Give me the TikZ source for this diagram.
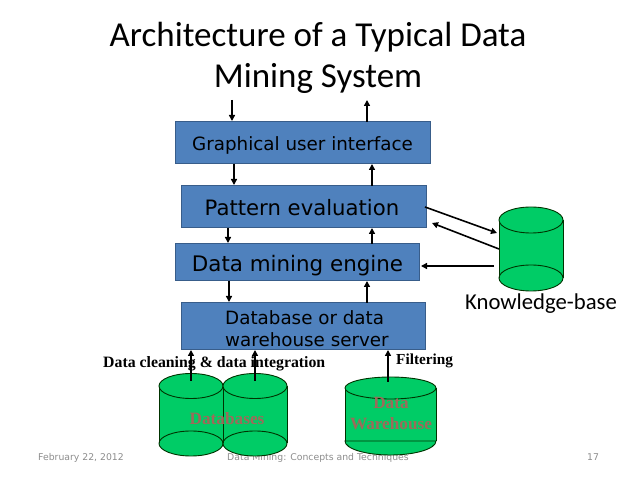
\documentclass[tikz,border=0pt]{standalone}
\usepackage{fontspec}
\usetikzlibrary{arrows.meta}
\newfontfamily\calib{Carlito}
\newfontfamily\tah{DejaVu Sans}
\newfontfamily\tms{Liberation Serif}
\definecolor{boxfill}{HTML}{4F81BD}
\definecolor{boxline}{HTML}{385D8A}
\definecolor{cylfill}{HTML}{00CC66}
\definecolor{cyltext}{HTML}{9C6B5A}
\definecolor{foot}{HTML}{8C8C8C}
\tikzset{
  layer/.style={draw=boxline, line width=1pt, fill=boxfill},
  flow/.style={-{Triangle[length=6pt,width=6pt]}, line width=1.6pt, black},
  cylline/.style={draw=black!80!green, line width=0.9pt},
  txt/.style={inner sep=0pt, anchor=base},
}
\newcommand{\cylbody}[5]{% cx, ty, by, rx, ry
  \fill[cylfill] (#1,#3) ellipse [x radius=#4, y radius=#5];
  \fill[cylfill] (#1-#4,#2) rectangle (#1+#4,#3);
  \draw[cylline] (#1,#3) ellipse [x radius=#4, y radius=#5];
  \draw[cylline] (#1-#4,#2) -- (#1-#4,#3);
  \draw[cylline] (#1+#4,#2) -- (#1+#4,#3);
  \filldraw[cylline, fill=cylfill] (#1,#2) ellipse [x radius=#4, y radius=#5];
}
\begin{document}
\begin{tikzpicture}[x=1pt, y=-1pt]
\useasboundingbox (0,0) rectangle (638,478);
% title
\node[txt] (t1) at (318,47) {\calib\fontsize{35}{40}\selectfont Architecture of a Typical Data};
\node[txt] (t2) at (318,88) {\calib\fontsize{35}{40}\selectfont Mining System};
% footer
\node[txt, anchor=mid] (f1) at (81,458) {\tah\fontsize{9.3}{11}\selectfont\color{foot}February 22, 2012};
\node[txt, anchor=mid] (f2) at (318,458) {\tah\fontsize{9.3}{11}\selectfont\color{foot}Data Mining: Concepts and Techniques};
\node[txt, anchor=mid] (f3) at (593,458) {\tah\fontsize{9.3}{11}\selectfont\color{foot}17};
% boxes
\draw[layer] (175,122) rectangle (430,164);
\node (gui) at (302.5,143) [minimum width=255pt, minimum height=42pt, inner sep=0pt] {};
\node[txt] at (302.5,151) {\tah\fontsize{18.3}{22}\selectfont Graphical user interface};
\draw[layer] (181,186) rectangle (426,228);
\node (pe) at (303.5,207) [minimum width=245pt, minimum height=42pt, inner sep=0pt] {};
\node[txt] at (302,216) {\tah\fontsize{21.2}{25}\selectfont Pattern evaluation};
\draw[layer] (175,244) rectangle (419,281);
\node (dme) at (297,262.5) [minimum width=244pt, minimum height=37pt, inner sep=0pt] {};
\node[txt] at (297.5,272) {\tah\fontsize{21.4}{25}\selectfont Data mining engine};
\draw[layer] (181,303) rectangle (425,350);
\node (db) at (303,326.5) [minimum width=244pt, minimum height=47pt, inner sep=0pt] {};
\node[txt, anchor=base west] at (225,325) {\tah\fontsize{18.3}{22}\selectfont Database or data};
\node[txt, anchor=base west] at (225,347) {\tah\fontsize{18.3}{22}\selectfont warehouse server};
% labels
\node[txt, anchor=base west] (lc) at (103,368) {\tms\bfseries\fontsize{15.8}{18}\selectfont Data cleaning \& data integration};
\node[txt, anchor=base west] (lf) at (396,365) {\tms\bfseries\fontsize{15.3}{18}\selectfont Filtering};
% knowledge base
\cylbody{531}{220}{278}{32}{13}
\node (kb) at (531,249) [minimum width=64pt, minimum height=84pt, inner sep=0pt] {};
\node[txt] (kbl) at (541,310) {\calib\fontsize{22.7}{26}\selectfont Knowledge-base};
% databases
\cylbody{191}{386}{443.5}{32}{12.5}
\cylbody{255}{386}{443.5}{32}{12.5}
\node[txt] (dbs) at (227,425) {\tms\bfseries\fontsize{17.3}{20}\selectfont\color{cyltext}Databases};
% data warehouse
\fill[cylfill] (345,441) arc[start angle=180, end angle=0, x radius=45.5, y radius=14] -- cycle;
\fill[cylfill] (345,388) rectangle (436,441);
\draw[cylline] (345,441) arc[start angle=180, end angle=0, x radius=45.5, y radius=14] -- cycle;
\draw[cylline] (345,388) -- (345,441);
\draw[cylline] (436,388) -- (436,441);
\filldraw[cylline, fill=cylfill] (390.5,388) ellipse [x radius=45.5, y radius=11];
\node[txt] (dw1) at (391,409) {\tms\bfseries\fontsize{17.2}{20}\selectfont\color{cyltext}Data};
\node[txt] (dw2) at (391,430) {\tms\bfseries\fontsize{17.2}{20}\selectfont\color{cyltext}Warehouse};
% coordinates for free ends
\coordinate (in1) at (232,100);
\coordinate (out1) at (367,100);
% arrows
\draw[flow] (in1) -- (232,121);
\draw[flow] (367,122) -- (out1);
\draw[flow] (234,164) -- (234,185);
\draw[flow] (372,186) -- (372,164);
\draw[flow] (228,228) -- (228,243);
\draw[flow] (372,244) -- (372,228);
\draw[flow] (229,281) -- (229,302);
\draw[flow] (367,303) -- (367,281);
\draw[flow] (191,381) -- (191,350);
\draw[flow] (255,381) -- (255,350);
\draw[flow] (388,382) -- (388,350);
\draw[flow] (425,207) -- (497,233);
\draw[flow] (499,249) -- (432,223);
\draw[flow] (494,266) -- (421,266);
\end{tikzpicture}
\end{document}
